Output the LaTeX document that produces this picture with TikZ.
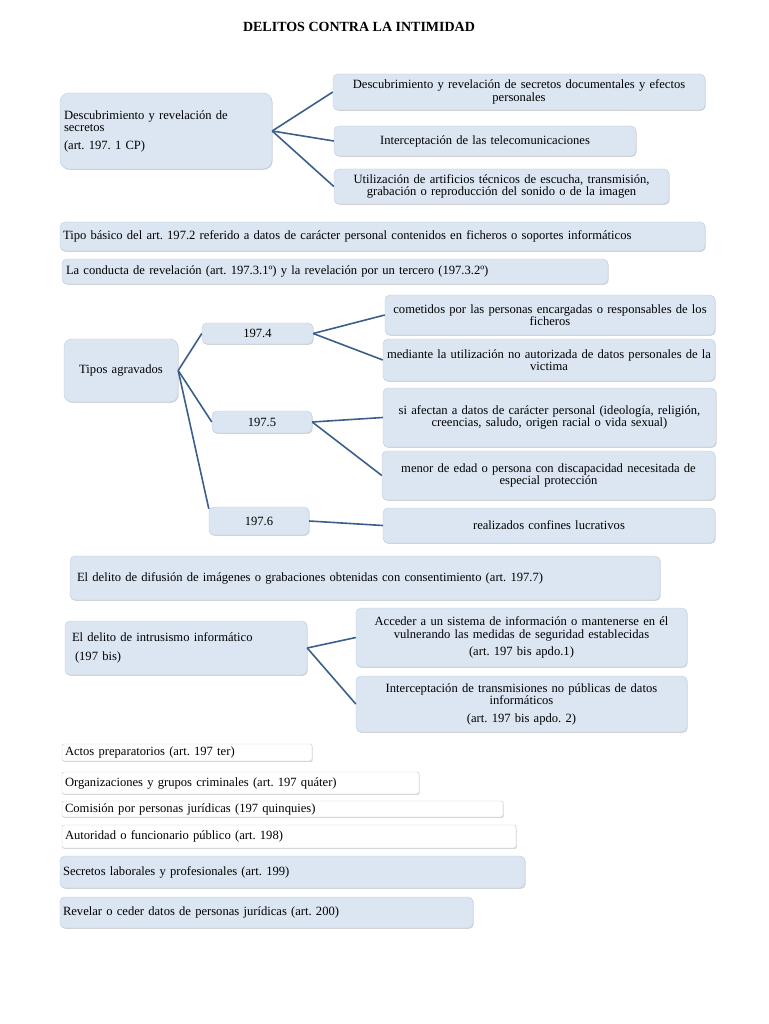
\documentclass[tikz,border=0pt]{standalone}
\usepackage{fontspec}
\setmainfont{Liberation Serif}
\usetikzlibrary{shadows}
\definecolor{relleno}{RGB}{220,230,242}
\definecolor{borde}{RGB}{190,204,222}
\definecolor{linea}{RGB}{59,95,140}
\frenchspacing

\begin{document}
\begin{tikzpicture}[x=1pt,y=-1pt,
        caja/.style={draw=borde, fill=relleno, rounded corners=5pt, inner xsep=4pt, inner ysep=0pt,
            font=\fontsize{12.6}{12.5}\selectfont,
            drop shadow={shadow xshift=0.7pt, shadow yshift=-0.9pt, opacity=0.35}},
        blanca/.style={caja, fill=white, rounded corners=2pt, inner xsep=3pt},
        rama/.style={draw=linea, line width=1.6pt}]
    \useasboundingbox (0,0) rectangle (768,1024);
    \node[font=\fontsize{14}{16}\selectfont\bfseries] (titulo) at (359,27) {DELITOS CONTRA LA INTIMIDAD};
    % art. 197.1
    \node[caja, rounded corners=9pt, text width=204pt, minimum height=76pt, align=left] (descub) at (166,131)
        {Descubrimiento y revelación de\\ secretos\\[5pt] (art. 197. 1 CP)};
    \node[caja, text width=364pt, minimum height=36pt, align=center] (documentos) at (519,92)
        {Descubrimiento y revelación de secretos documentales y efectos\\ personales};
    \node[caja, text width=294pt, minimum height=30pt, align=center] (telecom) at (485,141)
        {Interceptación de las telecomunicaciones};
    \node[caja, text width=327pt, minimum height=35pt, align=center] (artificios) at (501.5,186.5)
        {Utilización de artificios técnicos de escucha, transmisión,\\ grabación o reproducción del sonido o de la imagen};
    \draw[rama] (descub.east) -- (documentos.west);
    \draw[rama] (descub.east) -- (telecom.west);
    \draw[rama] (descub.east) -- (artificios.west);
    % 197.2 y 197.3
    \node[caja, inner xsep=3pt, text width=639pt, minimum height=29pt, align=left] (basico) at (382.5,236.5)
        {Tipo básico del art. 197.2 referido a datos de carácter personal contenidos en ficheros o soportes informáticos};
    \node[caja, text width=538pt, minimum height=25pt, align=left] (conducta) at (335,271.5)
        {La conducta de revelación (art. 197.3.1º) y la revelación por un tercero (197.3.2º)};
    % tipos agravados
    \node[caja, rounded corners=8pt, text width=106pt, minimum height=63pt, align=center] (agravados) at (121,370.5)
        {Tipos agravados};
    \node[caja, text width=103pt, minimum height=21pt, align=center] (a4) at (257.5,333.5) {197.4};
    \node[caja, text width=92pt, minimum height=22pt, align=center] (a5) at (262,422) {197.5};
    \node[caja, text width=92pt, minimum height=28pt, align=center] (a6) at (259,521) {197.6};
    \node[caja, text width=322pt, minimum height=40pt, align=center] (encargados) at (550,315)
        {cometidos por las personas encargadas o responsables de los\\ ficheros};
    \node[caja, text width=324pt, minimum height=42pt, align=center] (victima) at (549,360)
        {mediante la utilización no autorizada de datos personales de la\\ victima};
    \node[caja, text width=325pt, minimum height=59pt, align=center] (sensibles) at (549.5,417.5)
        {si afectan a datos de carácter personal (ideología, religión,\\ creencias, saludo, origen racial o vida sexual)};
    \node[caja, text width=325pt, minimum height=49pt, align=center] (menor) at (548.5,475.5)
        {menor de edad o persona con discapacidad necesitada de\\ especial protección};
    \node[caja, text width=324pt, minimum height=35pt, align=center] (lucro) at (549,525.5)
        {realizados confines lucrativos};
    \draw[rama] (agravados.east) -- (a4.west);
    \draw[rama] (agravados.east) -- (a5.west);
    \draw[rama] (agravados.east) -- ([yshift=-2pt]a6.north west);
    \draw[rama] (a4.east) -- (encargados.west);
    \draw[rama] (a4.east) -- (victima.west);
    \draw[rama] (a5.east) -- (sensibles.west);
    \draw[rama] (a5.east) -- (menor.west);
    \draw[rama] (a6.east) -- (lucro.west);
    % 197.7 y 197 bis
    \node[caja, inner xsep=7pt, text width=576pt, minimum height=44pt, align=left] (difusion) at (365,578)
        {El delito de difusión de imágenes o grabaciones obtenidas con consentimiento (art. 197.7)};
    \node[caja, inner xsep=7pt, text width=228pt, minimum height=54pt, align=left] (intrusismo) at (186,648)
        {El delito de intrusismo informático\\[6pt] \hspace*{3pt}(197 bis)};
    \node[caja, text width=323pt, minimum height=59pt, align=center] (acceso) at (521.5,637.5)
        {Acceder a un sistema de información o mantenerse en él\\ vulnerando las medidas de seguridad establecidas\\[5pt] (art. 197 bis apdo.1)};
    \node[caja, text width=323pt, minimum height=56pt, align=center] (transmision) at (521.5,704)
        {Interceptación de transmisiones no públicas de datos\\ informáticos\\[5pt] (art. 197 bis apdo. 2)};
    \draw[rama] (intrusismo.east) -- (acceso.west);
    \draw[rama] (intrusismo.east) -- (transmision.west);
    % resto de articulos
    \node[blanca, text width=244pt, minimum height=17pt, align=left] (preparatorios) at (187,752.5)
        {Actos preparatorios (art. 197 ter)};
    \node[blanca, text width=351pt, minimum height=22pt, align=left] (organizaciones) at (240.5,783)
        {Organizaciones y grupos criminales (art. 197 quáter)};
    \node[blanca, text width=435pt, minimum height=16pt, align=left] (comision) at (282.5,809)
        {Comisión por personas jurídicas (197 quinquies)};
    \node[blanca, text width=448pt, minimum height=23pt, align=left] (autoridad) at (289,836.5)
        {Autoridad o funcionario público (art. 198)};
    \node[caja, inner xsep=3pt, text width=459pt, minimum height=32pt, align=left] (laborales) at (292.5,872)
        {Secretos laborales y profesionales (art. 199)};
    \node[caja, inner xsep=3pt, text width=407pt, minimum height=31pt, align=left] (ceder) at (266.5,912.5)
        {Revelar o ceder datos de personas jurídicas (art. 200)};
\end{tikzpicture}
\end{document}
